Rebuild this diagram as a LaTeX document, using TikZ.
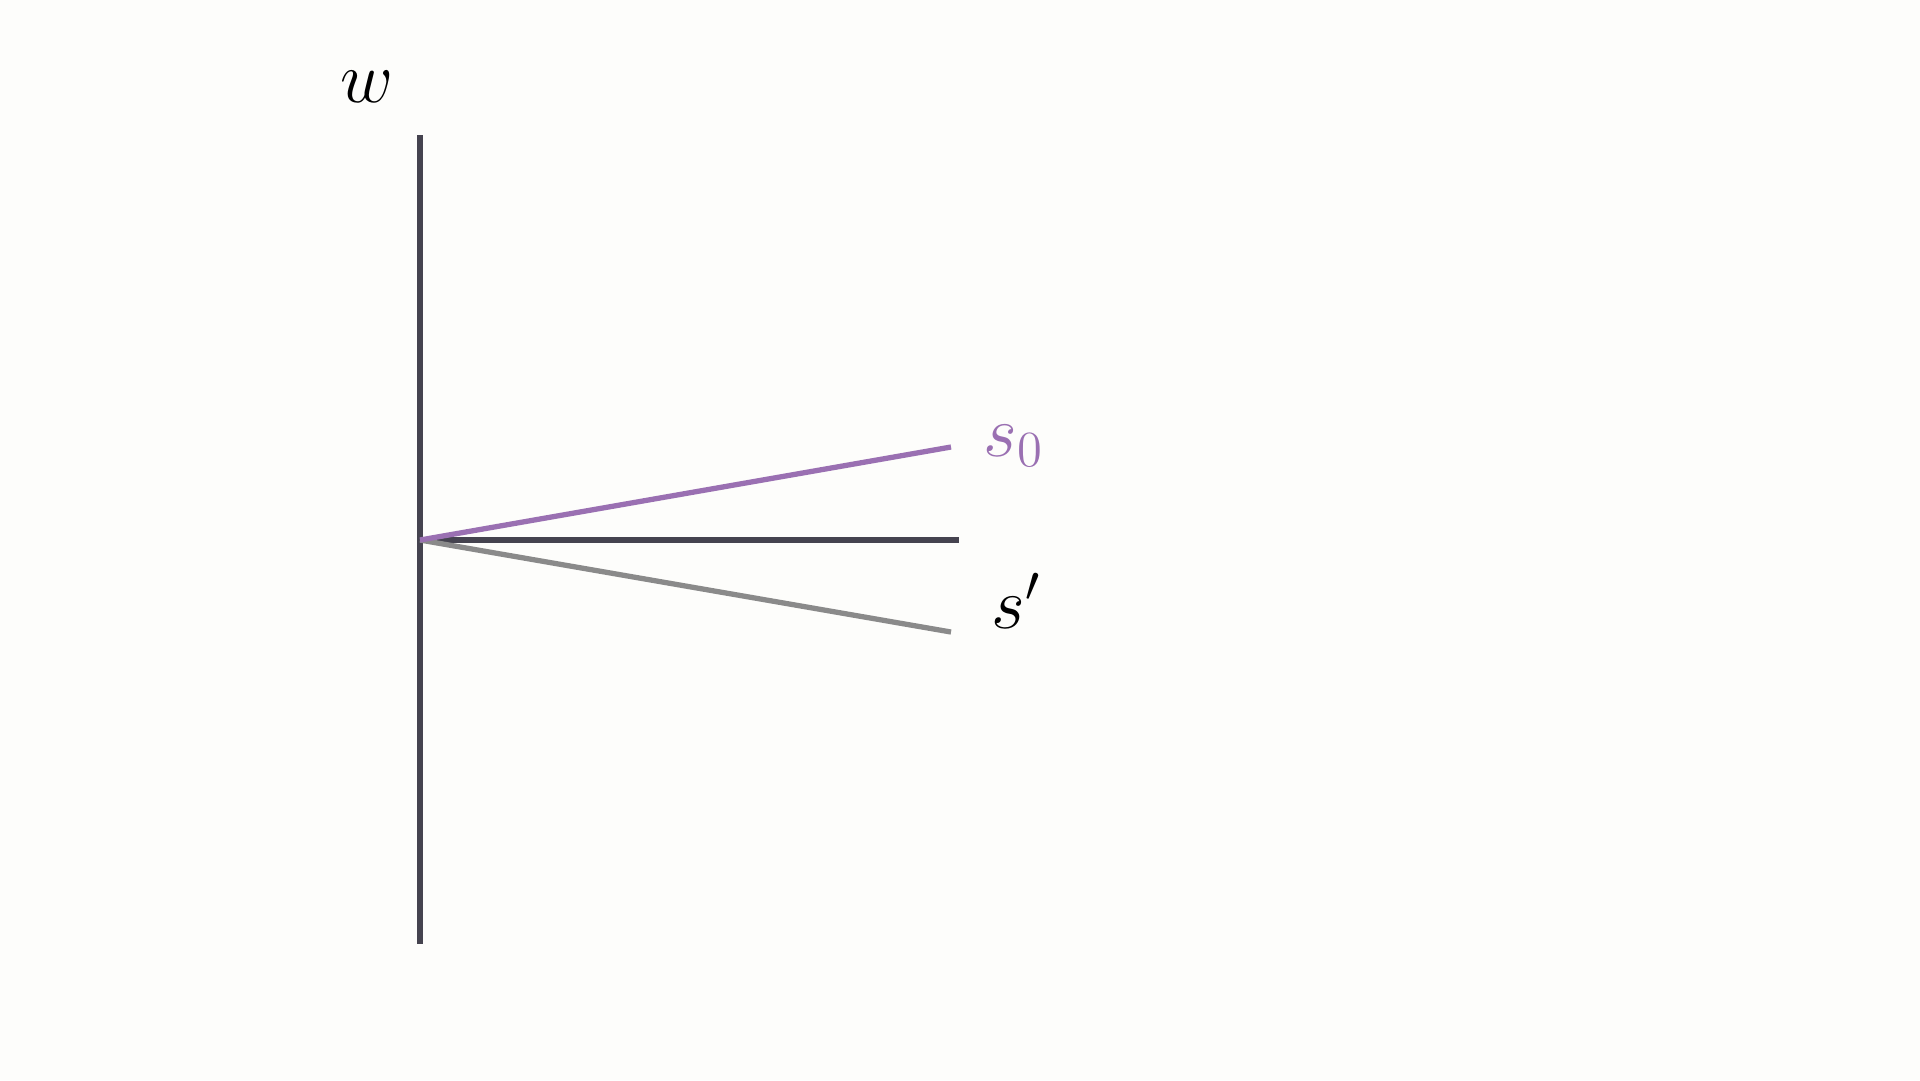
\documentclass[tikz,border=0pt]{standalone}
\usetikzlibrary{positioning, calc}
\definecolor{axisgray}{HTML}{45434F}
\definecolor{spurple}{HTML}{9A70B2}
\definecolor{sgray}{HTML}{8A8A8A}
\definecolor{paper}{HTML}{FDFDFB}
\tikzset{
  axis/.style={draw=axisgray, line width=1.5pt},
  ray/.style={line width=1.5pt},
  lbl/.style={inner sep=0pt, anchor=base west, font=\fontsize{21}{24}\selectfont}
}

\begin{document}
\begin{tikzpicture}[x=0.1mm, y=-0.1mm]
  \fill[paper] (0,0) rectangle (1920,1080);
  \useasboundingbox (0,0) rectangle (1920,1080);
  \coordinate (top) at (420,135);
  \coordinate (bottom) at (420,944);
  \coordinate (origin) at (420,540);
  \coordinate (hend) at (959,540);
  \coordinate (s0end) at (951,447);
  \coordinate (s1end) at (951,632);
  \draw[axis] (top) -- (bottom);
  \draw[axis] (origin) -- (hend);
  \draw[ray, sgray] (origin) -- (s1end);
  \draw[ray, spurple] (origin) -- (s0end);
  \node[lbl] (wlabel) at (340,102) {$w$};
  \node[lbl, text=spurple] (s0label) at (983,456) {$s_0$};
  \node[lbl] (s1label) at (991,628) {$s'$};
\end{tikzpicture}
\end{document}
